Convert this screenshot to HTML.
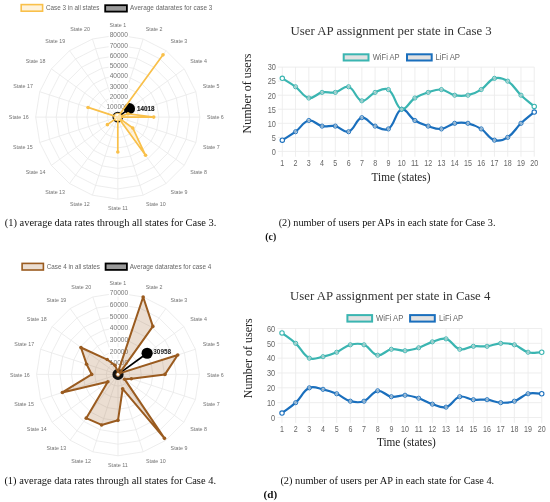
<!DOCTYPE html>
<html><head><meta charset="utf-8"><style>
html,body{margin:0;padding:0;background:#fff;width:550px;height:502px;overflow:hidden}
svg{display:block;filter:blur(0.35px)}
</style></head><body>
<svg width="550" height="502" viewBox="0 0 550 502">
<rect x="0" y="0" width="550" height="502" fill="#fff"/>
<polygon points="117.80,106.84 120.97,107.34 123.83,108.80 126.10,111.07 127.56,113.93 128.06,117.10 127.56,120.27 126.10,123.13 123.83,125.40 120.97,126.86 117.80,127.36 114.63,126.86 111.77,125.40 109.50,123.13 108.04,120.27 107.54,117.10 108.04,113.93 109.50,111.07 111.77,108.80 114.63,107.34" fill="none" stroke="#e9e9e9" stroke-width="0.8"/>
<polygon points="117.80,96.57 124.14,97.58 129.86,100.49 134.41,105.04 137.32,110.76 138.32,117.10 137.32,123.44 134.41,129.16 129.86,133.71 124.14,136.62 117.80,137.62 111.46,136.62 105.74,133.71 101.19,129.16 98.28,123.44 97.28,117.10 98.28,110.76 101.19,105.04 105.74,100.49 111.46,97.58" fill="none" stroke="#e9e9e9" stroke-width="0.8"/>
<polygon points="117.80,86.31 127.31,87.82 135.90,92.19 142.71,99.00 147.08,107.59 148.59,117.10 147.08,126.61 142.71,135.20 135.90,142.01 127.31,146.38 117.80,147.89 108.29,146.38 99.70,142.01 92.89,135.20 88.52,126.61 87.01,117.10 88.52,107.59 92.89,99.00 99.70,92.19 108.29,87.82" fill="none" stroke="#e9e9e9" stroke-width="0.8"/>
<polygon points="117.80,76.05 130.49,78.06 141.93,83.89 151.01,92.97 156.84,104.41 158.85,117.10 156.84,129.79 151.01,141.23 141.93,150.31 130.49,156.14 117.80,158.15 105.11,156.14 93.67,150.31 84.59,141.23 78.76,129.79 76.75,117.10 78.76,104.41 84.59,92.97 93.67,83.89 105.11,78.06" fill="none" stroke="#e9e9e9" stroke-width="0.8"/>
<polygon points="117.80,65.79 133.66,68.30 147.96,75.59 159.31,86.94 166.60,101.24 169.11,117.10 166.60,132.96 159.31,147.26 147.96,158.61 133.66,165.90 117.80,168.41 101.94,165.90 87.64,158.61 76.29,147.26 69.00,132.96 66.49,117.10 69.00,101.24 76.29,86.94 87.64,75.59 101.94,68.30" fill="none" stroke="#e9e9e9" stroke-width="0.8"/>
<polygon points="117.80,55.52 136.83,58.54 153.99,67.28 167.62,80.91 176.36,98.07 179.38,117.10 176.36,136.13 167.62,153.29 153.99,166.92 136.83,175.66 117.80,178.67 98.77,175.66 81.61,166.92 67.98,153.29 59.24,136.13 56.23,117.10 59.24,98.07 67.98,80.91 81.61,67.28 98.77,58.54" fill="none" stroke="#e9e9e9" stroke-width="0.8"/>
<polygon points="117.80,45.26 140.00,48.78 160.03,58.98 175.92,74.87 186.12,94.90 189.64,117.10 186.12,139.30 175.92,159.33 160.03,175.22 140.00,185.42 117.80,188.94 95.60,185.42 75.57,175.22 59.68,159.33 49.48,139.30 45.96,117.10 49.48,94.90 59.68,74.87 75.57,58.98 95.60,48.78" fill="none" stroke="#e9e9e9" stroke-width="0.8"/>
<polygon points="117.80,35.00 143.17,39.02 166.06,50.68 184.22,68.84 195.88,91.73 199.90,117.10 195.88,142.47 184.22,165.36 166.06,183.52 143.17,195.18 117.80,199.20 92.43,195.18 69.54,183.52 51.38,165.36 39.72,142.47 35.70,117.10 39.72,91.73 51.38,68.84 69.54,50.68 92.43,39.02" fill="none" stroke="#e9e9e9" stroke-width="0.8"/>
<line x1="117.80" y1="117.10" x2="117.80" y2="35.00" stroke="#e9e9e9" stroke-width="0.8"/>
<line x1="117.80" y1="117.10" x2="143.17" y2="39.02" stroke="#e9e9e9" stroke-width="0.8"/>
<line x1="117.80" y1="117.10" x2="166.06" y2="50.68" stroke="#e9e9e9" stroke-width="0.8"/>
<line x1="117.80" y1="117.10" x2="184.22" y2="68.84" stroke="#e9e9e9" stroke-width="0.8"/>
<line x1="117.80" y1="117.10" x2="195.88" y2="91.73" stroke="#e9e9e9" stroke-width="0.8"/>
<line x1="117.80" y1="117.10" x2="199.90" y2="117.10" stroke="#e9e9e9" stroke-width="0.8"/>
<line x1="117.80" y1="117.10" x2="195.88" y2="142.47" stroke="#e9e9e9" stroke-width="0.8"/>
<line x1="117.80" y1="117.10" x2="184.22" y2="165.36" stroke="#e9e9e9" stroke-width="0.8"/>
<line x1="117.80" y1="117.10" x2="166.06" y2="183.52" stroke="#e9e9e9" stroke-width="0.8"/>
<line x1="117.80" y1="117.10" x2="143.17" y2="195.18" stroke="#e9e9e9" stroke-width="0.8"/>
<line x1="117.80" y1="117.10" x2="117.80" y2="199.20" stroke="#e9e9e9" stroke-width="0.8"/>
<line x1="117.80" y1="117.10" x2="92.43" y2="195.18" stroke="#e9e9e9" stroke-width="0.8"/>
<line x1="117.80" y1="117.10" x2="69.54" y2="183.52" stroke="#e9e9e9" stroke-width="0.8"/>
<line x1="117.80" y1="117.10" x2="51.38" y2="165.36" stroke="#e9e9e9" stroke-width="0.8"/>
<line x1="117.80" y1="117.10" x2="39.72" y2="142.47" stroke="#e9e9e9" stroke-width="0.8"/>
<line x1="117.80" y1="117.10" x2="35.70" y2="117.10" stroke="#e9e9e9" stroke-width="0.8"/>
<line x1="117.80" y1="117.10" x2="39.72" y2="91.73" stroke="#e9e9e9" stroke-width="0.8"/>
<line x1="117.80" y1="117.10" x2="51.38" y2="68.84" stroke="#e9e9e9" stroke-width="0.8"/>
<line x1="117.80" y1="117.10" x2="69.54" y2="50.68" stroke="#e9e9e9" stroke-width="0.8"/>
<line x1="117.80" y1="117.10" x2="92.43" y2="39.02" stroke="#e9e9e9" stroke-width="0.8"/>
<rect x="105.45" y="102.64" width="20.30" height="7.8" fill="#fff" fill-opacity="1.0"/>
<text x="115.60" y="106.74" font-family='"Liberation Sans", sans-serif' font-size="7.0" fill="#777" text-anchor="middle" font-weight="normal" dominant-baseline="central" textLength="18.30" lengthAdjust="spacingAndGlyphs">10000</text>
<rect x="108.65" y="92.37" width="20.30" height="7.8" fill="#fff" fill-opacity="1.0"/>
<text x="118.80" y="96.47" font-family='"Liberation Sans", sans-serif' font-size="7.0" fill="#777" text-anchor="middle" font-weight="normal" dominant-baseline="central" textLength="18.30" lengthAdjust="spacingAndGlyphs">20000</text>
<rect x="108.65" y="82.11" width="20.30" height="7.8" fill="#fff" fill-opacity="1.0"/>
<text x="118.80" y="86.21" font-family='"Liberation Sans", sans-serif' font-size="7.0" fill="#777" text-anchor="middle" font-weight="normal" dominant-baseline="central" textLength="18.30" lengthAdjust="spacingAndGlyphs">30000</text>
<rect x="108.65" y="71.85" width="20.30" height="7.8" fill="#fff" fill-opacity="1.0"/>
<text x="118.80" y="75.95" font-family='"Liberation Sans", sans-serif' font-size="7.0" fill="#777" text-anchor="middle" font-weight="normal" dominant-baseline="central" textLength="18.30" lengthAdjust="spacingAndGlyphs">40000</text>
<rect x="108.65" y="61.59" width="20.30" height="7.8" fill="#fff" fill-opacity="1.0"/>
<text x="118.80" y="65.69" font-family='"Liberation Sans", sans-serif' font-size="7.0" fill="#777" text-anchor="middle" font-weight="normal" dominant-baseline="central" textLength="18.30" lengthAdjust="spacingAndGlyphs">50000</text>
<rect x="108.65" y="51.32" width="20.30" height="7.8" fill="#fff" fill-opacity="1.0"/>
<text x="118.80" y="55.42" font-family='"Liberation Sans", sans-serif' font-size="7.0" fill="#777" text-anchor="middle" font-weight="normal" dominant-baseline="central" textLength="18.30" lengthAdjust="spacingAndGlyphs">60000</text>
<rect x="108.65" y="41.06" width="20.30" height="7.8" fill="#fff" fill-opacity="1.0"/>
<text x="118.80" y="45.16" font-family='"Liberation Sans", sans-serif' font-size="7.0" fill="#777" text-anchor="middle" font-weight="normal" dominant-baseline="central" textLength="18.30" lengthAdjust="spacingAndGlyphs">70000</text>
<rect x="108.65" y="30.80" width="20.30" height="7.8" fill="#fff" fill-opacity="1.0"/>
<text x="118.80" y="34.90" font-family='"Liberation Sans", sans-serif' font-size="7.0" fill="#777" text-anchor="middle" font-weight="normal" dominant-baseline="central" textLength="18.30" lengthAdjust="spacingAndGlyphs">80000</text>
<text x="117.80" y="24.50" font-family='"Liberation Sans", sans-serif' font-size="6.0" fill="#737373" text-anchor="middle" font-weight="normal" dominant-baseline="central" textLength="16.80" lengthAdjust="spacingAndGlyphs">State 1</text>
<text x="145.70" y="28.80" font-family='"Liberation Sans", sans-serif' font-size="6.0" fill="#737373" text-anchor="start" font-weight="normal" dominant-baseline="central" textLength="16.80" lengthAdjust="spacingAndGlyphs">State 2</text>
<text x="170.50" y="41.40" font-family='"Liberation Sans", sans-serif' font-size="6.0" fill="#737373" text-anchor="start" font-weight="normal" dominant-baseline="central" textLength="16.80" lengthAdjust="spacingAndGlyphs">State 3</text>
<text x="190.20" y="61.10" font-family='"Liberation Sans", sans-serif' font-size="6.0" fill="#737373" text-anchor="start" font-weight="normal" dominant-baseline="central" textLength="16.80" lengthAdjust="spacingAndGlyphs">State 4</text>
<text x="202.70" y="85.60" font-family='"Liberation Sans", sans-serif' font-size="6.0" fill="#737373" text-anchor="start" font-weight="normal" dominant-baseline="central" textLength="16.80" lengthAdjust="spacingAndGlyphs">State 5</text>
<text x="207.00" y="117.00" font-family='"Liberation Sans", sans-serif' font-size="6.0" fill="#737373" text-anchor="start" font-weight="normal" dominant-baseline="central" textLength="16.80" lengthAdjust="spacingAndGlyphs">State 6</text>
<text x="202.90" y="147.40" font-family='"Liberation Sans", sans-serif' font-size="6.0" fill="#737373" text-anchor="start" font-weight="normal" dominant-baseline="central" textLength="16.80" lengthAdjust="spacingAndGlyphs">State 7</text>
<text x="190.20" y="172.30" font-family='"Liberation Sans", sans-serif' font-size="6.0" fill="#737373" text-anchor="start" font-weight="normal" dominant-baseline="central" textLength="16.80" lengthAdjust="spacingAndGlyphs">State 8</text>
<text x="170.60" y="191.50" font-family='"Liberation Sans", sans-serif' font-size="6.0" fill="#737373" text-anchor="start" font-weight="normal" dominant-baseline="central" textLength="16.80" lengthAdjust="spacingAndGlyphs">State 9</text>
<text x="145.90" y="204.30" font-family='"Liberation Sans", sans-serif' font-size="6.0" fill="#737373" text-anchor="start" font-weight="normal" dominant-baseline="central" textLength="19.74" lengthAdjust="spacingAndGlyphs">State 10</text>
<text x="117.90" y="207.90" font-family='"Liberation Sans", sans-serif' font-size="6.0" fill="#737373" text-anchor="middle" font-weight="normal" dominant-baseline="central" textLength="19.74" lengthAdjust="spacingAndGlyphs">State 11</text>
<text x="89.70" y="204.30" font-family='"Liberation Sans", sans-serif' font-size="6.0" fill="#737373" text-anchor="end" font-weight="normal" dominant-baseline="central" textLength="19.74" lengthAdjust="spacingAndGlyphs">State 12</text>
<text x="65.00" y="191.50" font-family='"Liberation Sans", sans-serif' font-size="6.0" fill="#737373" text-anchor="end" font-weight="normal" dominant-baseline="central" textLength="19.74" lengthAdjust="spacingAndGlyphs">State 13</text>
<text x="45.40" y="172.30" font-family='"Liberation Sans", sans-serif' font-size="6.0" fill="#737373" text-anchor="end" font-weight="normal" dominant-baseline="central" textLength="19.74" lengthAdjust="spacingAndGlyphs">State 14</text>
<text x="32.70" y="147.40" font-family='"Liberation Sans", sans-serif' font-size="6.0" fill="#737373" text-anchor="end" font-weight="normal" dominant-baseline="central" textLength="19.74" lengthAdjust="spacingAndGlyphs">State 15</text>
<text x="28.60" y="117.00" font-family='"Liberation Sans", sans-serif' font-size="6.0" fill="#737373" text-anchor="end" font-weight="normal" dominant-baseline="central" textLength="19.74" lengthAdjust="spacingAndGlyphs">State 16</text>
<text x="32.90" y="85.60" font-family='"Liberation Sans", sans-serif' font-size="6.0" fill="#737373" text-anchor="end" font-weight="normal" dominant-baseline="central" textLength="19.74" lengthAdjust="spacingAndGlyphs">State 17</text>
<text x="45.40" y="61.10" font-family='"Liberation Sans", sans-serif' font-size="6.0" fill="#737373" text-anchor="end" font-weight="normal" dominant-baseline="central" textLength="19.74" lengthAdjust="spacingAndGlyphs">State 18</text>
<text x="65.10" y="41.40" font-family='"Liberation Sans", sans-serif' font-size="6.0" fill="#737373" text-anchor="end" font-weight="normal" dominant-baseline="central" textLength="19.74" lengthAdjust="spacingAndGlyphs">State 19</text>
<text x="89.90" y="28.80" font-family='"Liberation Sans", sans-serif' font-size="6.0" fill="#737373" text-anchor="end" font-weight="normal" dominant-baseline="central" textLength="19.74" lengthAdjust="spacingAndGlyphs">State 20</text>
<polygon points="117.80,117.10 117.80,117.10 163.04,54.83 117.80,117.10 128.05,113.77 153.72,117.10 117.80,117.10 132.74,127.96 145.55,155.29 117.80,117.10 117.80,151.99 117.80,117.10 117.80,117.10 107.42,124.64 117.80,117.10 117.80,117.10 88.03,107.43 117.80,117.10 117.80,117.10 117.80,117.10" fill="rgba(249,192,74,0.2)" stroke="none"/>
<line x1="117.80" y1="117.10" x2="129.44" y2="108.64" stroke="#000" stroke-width="1.7"/>
<circle cx="129.44" cy="108.64" r="5.6" fill="#000"/>
<circle cx="117.80" cy="117.10" r="4.6" fill="#fff" stroke="#111" stroke-width="1.5"/>
<polygon points="117.80,117.10 117.80,117.10 163.04,54.83 117.80,117.10 128.05,113.77 153.72,117.10 117.80,117.10 132.74,127.96 145.55,155.29 117.80,117.10 117.80,151.99 117.80,117.10 117.80,117.10 107.42,124.64 117.80,117.10 117.80,117.10 88.03,107.43 117.80,117.10 117.80,117.10 117.80,117.10" fill="none" stroke="#f9c04a" stroke-width="1.7" stroke-linejoin="round"/>
<circle cx="163.04" cy="54.83" r="1.8" fill="#f9c04a"/>
<circle cx="128.05" cy="113.77" r="1.8" fill="#f9c04a"/>
<circle cx="153.72" cy="117.10" r="1.8" fill="#f9c04a"/>
<circle cx="132.74" cy="127.96" r="1.8" fill="#f9c04a"/>
<circle cx="145.55" cy="155.29" r="1.8" fill="#f9c04a"/>
<circle cx="117.80" cy="151.99" r="1.8" fill="#f9c04a"/>
<circle cx="107.42" cy="124.64" r="1.8" fill="#f9c04a"/>
<circle cx="88.03" cy="107.43" r="1.8" fill="#f9c04a"/>
<circle cx="117.80" cy="117.10" r="3.8499999999999996" fill="#fff" fill-opacity="0.55" stroke="#f9c04a" stroke-width="0.9"/>
<text x="137.00" y="108.50" font-family='"Liberation Sans", sans-serif' font-size="6.7" fill="#1a1a1a" text-anchor="start" font-weight="bold" dominant-baseline="central" textLength="17.40" lengthAdjust="spacingAndGlyphs" stroke="#1a1a1a" stroke-width="0.15">14018</text>
<rect x="21.20" y="4.60" width="21.40" height="6.60" fill="rgba(249,192,74,0.2)" stroke="#f9c04a" stroke-width="1.6"/>
<text x="45.90" y="7.80" font-family='"Liberation Sans", sans-serif' font-size="7.4" fill="#666" text-anchor="start" font-weight="normal" dominant-baseline="central" textLength="53.60" lengthAdjust="spacingAndGlyphs">Case 3 in all states</text>
<rect x="105.20" y="5.20" width="21.70" height="6.40" fill="#9a9a9a" stroke="#000" stroke-width="1.8"/>
<text x="130.10" y="7.80" font-family='"Liberation Sans", sans-serif' font-size="7.4" fill="#666" text-anchor="start" font-weight="normal" dominant-baseline="central" textLength="82.30" lengthAdjust="spacingAndGlyphs">Average datarates for case 3</text>
<polygon points="118.00,362.77 121.59,363.34 124.84,364.99 127.41,367.56 129.06,370.81 129.63,374.40 129.06,377.99 127.41,381.24 124.84,383.81 121.59,385.46 118.00,386.03 114.41,385.46 111.16,383.81 108.59,381.24 106.94,377.99 106.37,374.40 106.94,370.81 108.59,367.56 111.16,364.99 114.41,363.34" fill="none" stroke="#e9e9e9" stroke-width="0.8"/>
<polygon points="118.00,351.14 125.19,352.28 131.67,355.58 136.82,360.73 140.12,367.21 141.26,374.40 140.12,381.59 136.82,388.07 131.67,393.22 125.19,396.52 118.00,397.66 110.81,396.52 104.33,393.22 99.18,388.07 95.88,381.59 94.74,374.40 95.88,367.21 99.18,360.73 104.33,355.58 110.81,352.28" fill="none" stroke="#e9e9e9" stroke-width="0.8"/>
<polygon points="118.00,339.51 128.78,341.22 138.51,346.18 146.22,353.89 151.18,363.62 152.89,374.40 151.18,385.18 146.22,394.91 138.51,402.62 128.78,407.58 118.00,409.29 107.22,407.58 97.49,402.62 89.78,394.91 84.82,385.18 83.11,374.40 84.82,363.62 89.78,353.89 97.49,346.18 107.22,341.22" fill="none" stroke="#e9e9e9" stroke-width="0.8"/>
<polygon points="118.00,327.89 132.37,330.16 145.34,336.77 155.63,347.06 162.24,360.03 164.51,374.40 162.24,388.77 155.63,401.74 145.34,412.03 132.37,418.64 118.00,420.91 103.63,418.64 90.66,412.03 80.37,401.74 73.76,388.77 71.49,374.40 73.76,360.03 80.37,347.06 90.66,336.77 103.63,330.16" fill="none" stroke="#e9e9e9" stroke-width="0.8"/>
<polygon points="118.00,316.26 135.97,319.10 152.18,327.36 165.04,340.22 173.30,356.43 176.14,374.40 173.30,392.37 165.04,408.58 152.18,421.44 135.97,429.70 118.00,432.54 100.03,429.70 83.82,421.44 70.96,408.58 62.70,392.37 59.86,374.40 62.70,356.43 70.96,340.22 83.82,327.36 100.03,319.10" fill="none" stroke="#e9e9e9" stroke-width="0.8"/>
<polygon points="118.00,304.63 139.56,308.04 159.01,317.95 174.45,333.39 184.36,352.84 187.77,374.40 184.36,395.96 174.45,415.41 159.01,430.85 139.56,440.76 118.00,444.17 96.44,440.76 76.99,430.85 61.55,415.41 51.64,395.96 48.23,374.40 51.64,352.84 61.55,333.39 76.99,317.95 96.44,308.04" fill="none" stroke="#e9e9e9" stroke-width="0.8"/>
<polygon points="118.00,293.00 143.15,296.98 165.85,308.55 183.85,326.55 195.42,349.25 199.40,374.40 195.42,399.55 183.85,422.25 165.85,440.25 143.15,451.82 118.00,455.80 92.85,451.82 70.15,440.25 52.15,422.25 40.58,399.55 36.60,374.40 40.58,349.25 52.15,326.55 70.15,308.55 92.85,296.98" fill="none" stroke="#e9e9e9" stroke-width="0.8"/>
<line x1="118.00" y1="374.40" x2="118.00" y2="293.00" stroke="#e9e9e9" stroke-width="0.8"/>
<line x1="118.00" y1="374.40" x2="143.15" y2="296.98" stroke="#e9e9e9" stroke-width="0.8"/>
<line x1="118.00" y1="374.40" x2="165.85" y2="308.55" stroke="#e9e9e9" stroke-width="0.8"/>
<line x1="118.00" y1="374.40" x2="183.85" y2="326.55" stroke="#e9e9e9" stroke-width="0.8"/>
<line x1="118.00" y1="374.40" x2="195.42" y2="349.25" stroke="#e9e9e9" stroke-width="0.8"/>
<line x1="118.00" y1="374.40" x2="199.40" y2="374.40" stroke="#e9e9e9" stroke-width="0.8"/>
<line x1="118.00" y1="374.40" x2="195.42" y2="399.55" stroke="#e9e9e9" stroke-width="0.8"/>
<line x1="118.00" y1="374.40" x2="183.85" y2="422.25" stroke="#e9e9e9" stroke-width="0.8"/>
<line x1="118.00" y1="374.40" x2="165.85" y2="440.25" stroke="#e9e9e9" stroke-width="0.8"/>
<line x1="118.00" y1="374.40" x2="143.15" y2="451.82" stroke="#e9e9e9" stroke-width="0.8"/>
<line x1="118.00" y1="374.40" x2="118.00" y2="455.80" stroke="#e9e9e9" stroke-width="0.8"/>
<line x1="118.00" y1="374.40" x2="92.85" y2="451.82" stroke="#e9e9e9" stroke-width="0.8"/>
<line x1="118.00" y1="374.40" x2="70.15" y2="440.25" stroke="#e9e9e9" stroke-width="0.8"/>
<line x1="118.00" y1="374.40" x2="52.15" y2="422.25" stroke="#e9e9e9" stroke-width="0.8"/>
<line x1="118.00" y1="374.40" x2="40.58" y2="399.55" stroke="#e9e9e9" stroke-width="0.8"/>
<line x1="118.00" y1="374.40" x2="36.60" y2="374.40" stroke="#e9e9e9" stroke-width="0.8"/>
<line x1="118.00" y1="374.40" x2="40.58" y2="349.25" stroke="#e9e9e9" stroke-width="0.8"/>
<line x1="118.00" y1="374.40" x2="52.15" y2="326.55" stroke="#e9e9e9" stroke-width="0.8"/>
<line x1="118.00" y1="374.40" x2="70.15" y2="308.55" stroke="#e9e9e9" stroke-width="0.8"/>
<line x1="118.00" y1="374.40" x2="92.85" y2="296.98" stroke="#e9e9e9" stroke-width="0.8"/>
<rect x="108.85" y="358.57" width="20.30" height="7.8" fill="#fff" fill-opacity="1.0"/>
<text x="119.00" y="362.67" font-family='"Liberation Sans", sans-serif' font-size="7.0" fill="#777" text-anchor="middle" font-weight="normal" dominant-baseline="central" textLength="18.30" lengthAdjust="spacingAndGlyphs">10000</text>
<rect x="108.85" y="346.94" width="20.30" height="7.8" fill="#fff" fill-opacity="1.0"/>
<text x="119.00" y="351.04" font-family='"Liberation Sans", sans-serif' font-size="7.0" fill="#777" text-anchor="middle" font-weight="normal" dominant-baseline="central" textLength="18.30" lengthAdjust="spacingAndGlyphs">20000</text>
<rect x="108.85" y="335.31" width="20.30" height="7.8" fill="#fff" fill-opacity="1.0"/>
<text x="119.00" y="339.41" font-family='"Liberation Sans", sans-serif' font-size="7.0" fill="#777" text-anchor="middle" font-weight="normal" dominant-baseline="central" textLength="18.30" lengthAdjust="spacingAndGlyphs">30000</text>
<rect x="108.85" y="323.69" width="20.30" height="7.8" fill="#fff" fill-opacity="1.0"/>
<text x="119.00" y="327.79" font-family='"Liberation Sans", sans-serif' font-size="7.0" fill="#777" text-anchor="middle" font-weight="normal" dominant-baseline="central" textLength="18.30" lengthAdjust="spacingAndGlyphs">40000</text>
<rect x="108.85" y="312.06" width="20.30" height="7.8" fill="#fff" fill-opacity="1.0"/>
<text x="119.00" y="316.16" font-family='"Liberation Sans", sans-serif' font-size="7.0" fill="#777" text-anchor="middle" font-weight="normal" dominant-baseline="central" textLength="18.30" lengthAdjust="spacingAndGlyphs">50000</text>
<rect x="108.85" y="300.43" width="20.30" height="7.8" fill="#fff" fill-opacity="1.0"/>
<text x="119.00" y="304.53" font-family='"Liberation Sans", sans-serif' font-size="7.0" fill="#777" text-anchor="middle" font-weight="normal" dominant-baseline="central" textLength="18.30" lengthAdjust="spacingAndGlyphs">60000</text>
<rect x="108.85" y="288.80" width="20.30" height="7.8" fill="#fff" fill-opacity="1.0"/>
<text x="119.00" y="292.90" font-family='"Liberation Sans", sans-serif' font-size="7.0" fill="#777" text-anchor="middle" font-weight="normal" dominant-baseline="central" textLength="18.30" lengthAdjust="spacingAndGlyphs">70000</text>
<text x="117.80" y="282.60" font-family='"Liberation Sans", sans-serif' font-size="6.0" fill="#737373" text-anchor="middle" font-weight="normal" dominant-baseline="central" textLength="16.80" lengthAdjust="spacingAndGlyphs">State 1</text>
<text x="145.70" y="286.90" font-family='"Liberation Sans", sans-serif' font-size="6.0" fill="#737373" text-anchor="start" font-weight="normal" dominant-baseline="central" textLength="16.80" lengthAdjust="spacingAndGlyphs">State 2</text>
<text x="170.50" y="299.50" font-family='"Liberation Sans", sans-serif' font-size="6.0" fill="#737373" text-anchor="start" font-weight="normal" dominant-baseline="central" textLength="16.80" lengthAdjust="spacingAndGlyphs">State 3</text>
<text x="190.20" y="319.20" font-family='"Liberation Sans", sans-serif' font-size="6.0" fill="#737373" text-anchor="start" font-weight="normal" dominant-baseline="central" textLength="16.80" lengthAdjust="spacingAndGlyphs">State 4</text>
<text x="202.70" y="343.70" font-family='"Liberation Sans", sans-serif' font-size="6.0" fill="#737373" text-anchor="start" font-weight="normal" dominant-baseline="central" textLength="16.80" lengthAdjust="spacingAndGlyphs">State 5</text>
<text x="207.00" y="374.50" font-family='"Liberation Sans", sans-serif' font-size="6.0" fill="#737373" text-anchor="start" font-weight="normal" dominant-baseline="central" textLength="16.80" lengthAdjust="spacingAndGlyphs">State 6</text>
<text x="202.90" y="403.70" font-family='"Liberation Sans", sans-serif' font-size="6.0" fill="#737373" text-anchor="start" font-weight="normal" dominant-baseline="central" textLength="16.80" lengthAdjust="spacingAndGlyphs">State 7</text>
<text x="190.20" y="428.60" font-family='"Liberation Sans", sans-serif' font-size="6.0" fill="#737373" text-anchor="start" font-weight="normal" dominant-baseline="central" textLength="16.80" lengthAdjust="spacingAndGlyphs">State 8</text>
<text x="170.60" y="447.80" font-family='"Liberation Sans", sans-serif' font-size="6.0" fill="#737373" text-anchor="start" font-weight="normal" dominant-baseline="central" textLength="16.80" lengthAdjust="spacingAndGlyphs">State 9</text>
<text x="145.90" y="460.60" font-family='"Liberation Sans", sans-serif' font-size="6.0" fill="#737373" text-anchor="start" font-weight="normal" dominant-baseline="central" textLength="19.74" lengthAdjust="spacingAndGlyphs">State 10</text>
<text x="117.90" y="465.40" font-family='"Liberation Sans", sans-serif' font-size="6.0" fill="#737373" text-anchor="middle" font-weight="normal" dominant-baseline="central" textLength="19.74" lengthAdjust="spacingAndGlyphs">State 11</text>
<text x="90.90" y="460.60" font-family='"Liberation Sans", sans-serif' font-size="6.0" fill="#737373" text-anchor="end" font-weight="normal" dominant-baseline="central" textLength="19.74" lengthAdjust="spacingAndGlyphs">State 12</text>
<text x="66.20" y="447.80" font-family='"Liberation Sans", sans-serif' font-size="6.0" fill="#737373" text-anchor="end" font-weight="normal" dominant-baseline="central" textLength="19.74" lengthAdjust="spacingAndGlyphs">State 13</text>
<text x="46.60" y="428.60" font-family='"Liberation Sans", sans-serif' font-size="6.0" fill="#737373" text-anchor="end" font-weight="normal" dominant-baseline="central" textLength="19.74" lengthAdjust="spacingAndGlyphs">State 14</text>
<text x="33.90" y="403.70" font-family='"Liberation Sans", sans-serif' font-size="6.0" fill="#737373" text-anchor="end" font-weight="normal" dominant-baseline="central" textLength="19.74" lengthAdjust="spacingAndGlyphs">State 15</text>
<text x="29.80" y="374.50" font-family='"Liberation Sans", sans-serif' font-size="6.0" fill="#737373" text-anchor="end" font-weight="normal" dominant-baseline="central" textLength="19.74" lengthAdjust="spacingAndGlyphs">State 16</text>
<text x="34.10" y="343.70" font-family='"Liberation Sans", sans-serif' font-size="6.0" fill="#737373" text-anchor="end" font-weight="normal" dominant-baseline="central" textLength="19.74" lengthAdjust="spacingAndGlyphs">State 17</text>
<text x="46.60" y="319.20" font-family='"Liberation Sans", sans-serif' font-size="6.0" fill="#737373" text-anchor="end" font-weight="normal" dominant-baseline="central" textLength="19.74" lengthAdjust="spacingAndGlyphs">State 18</text>
<text x="66.30" y="299.50" font-family='"Liberation Sans", sans-serif' font-size="6.0" fill="#737373" text-anchor="end" font-weight="normal" dominant-baseline="central" textLength="19.74" lengthAdjust="spacingAndGlyphs">State 19</text>
<text x="91.10" y="286.90" font-family='"Liberation Sans", sans-serif' font-size="6.0" fill="#737373" text-anchor="end" font-weight="normal" dominant-baseline="central" textLength="19.74" lengthAdjust="spacingAndGlyphs">State 20</text>
<polygon points="118.00,372.07 143.15,296.98 152.86,326.42 119.41,373.37 177.72,355.00 164.98,374.40 131.27,378.71 124.59,379.18 164.48,438.37 122.67,388.78 118.00,420.33 101.58,424.94 86.22,418.15 107.84,381.78 62.37,392.47 91.72,374.40 86.59,364.19 80.93,347.47 107.20,359.54 115.05,365.33" fill="rgba(154,91,31,0.2)" stroke="none"/>
<line x1="118.00" y1="374.40" x2="147.12" y2="353.24" stroke="#000" stroke-width="1.7"/>
<circle cx="147.12" cy="353.24" r="5.6" fill="#000"/>
<circle cx="118.00" cy="374.40" r="3.8" fill="#fff" stroke="#111" stroke-width="3.6"/>
<polygon points="118.00,372.07 143.15,296.98 152.86,326.42 119.41,373.37 177.72,355.00 164.98,374.40 131.27,378.71 124.59,379.18 164.48,438.37 122.67,388.78 118.00,420.33 101.58,424.94 86.22,418.15 107.84,381.78 62.37,392.47 91.72,374.40 86.59,364.19 80.93,347.47 107.20,359.54 115.05,365.33" fill="none" stroke="#9a5b1f" stroke-width="2.0" stroke-linejoin="round"/>
<circle cx="143.15" cy="296.98" r="1.8" fill="#9a5b1f"/>
<circle cx="152.86" cy="326.42" r="1.8" fill="#9a5b1f"/>
<circle cx="177.72" cy="355.00" r="1.8" fill="#9a5b1f"/>
<circle cx="164.98" cy="374.40" r="1.8" fill="#9a5b1f"/>
<circle cx="131.27" cy="378.71" r="1.8" fill="#9a5b1f"/>
<circle cx="124.59" cy="379.18" r="1.8" fill="#9a5b1f"/>
<circle cx="164.48" cy="438.37" r="1.8" fill="#9a5b1f"/>
<circle cx="122.67" cy="388.78" r="1.8" fill="#9a5b1f"/>
<circle cx="118.00" cy="420.33" r="1.8" fill="#9a5b1f"/>
<circle cx="101.58" cy="424.94" r="1.8" fill="#9a5b1f"/>
<circle cx="86.22" cy="418.15" r="1.8" fill="#9a5b1f"/>
<circle cx="107.84" cy="381.78" r="1.8" fill="#9a5b1f"/>
<circle cx="62.37" cy="392.47" r="1.8" fill="#9a5b1f"/>
<circle cx="91.72" cy="374.40" r="1.8" fill="#9a5b1f"/>
<circle cx="86.59" cy="364.19" r="1.8" fill="#9a5b1f"/>
<circle cx="80.93" cy="347.47" r="1.8" fill="#9a5b1f"/>
<circle cx="107.20" cy="359.54" r="1.8" fill="#9a5b1f"/>
<circle cx="115.05" cy="365.33" r="1.8" fill="#9a5b1f"/>
<circle cx="118.00" cy="374.40" r="1.9999999999999998" fill="#fff" fill-opacity="0.55" stroke="#9a5b1f" stroke-width="0.9"/>
<text x="153.30" y="351.00" font-family='"Liberation Sans", sans-serif' font-size="6.7" fill="#1a1a1a" text-anchor="start" font-weight="bold" dominant-baseline="central" textLength="17.80" lengthAdjust="spacingAndGlyphs">30958</text>
<rect x="22.10" y="263.40" width="21.30" height="6.60" fill="rgba(154,91,31,0.2)" stroke="#9a5b1f" stroke-width="1.6"/>
<text x="46.70" y="266.00" font-family='"Liberation Sans", sans-serif' font-size="7.4" fill="#666" text-anchor="start" font-weight="normal" dominant-baseline="central" textLength="53.20" lengthAdjust="spacingAndGlyphs">Case 4 in all states</text>
<rect x="105.60" y="263.50" width="21.30" height="6.40" fill="#9a9a9a" stroke="#000" stroke-width="1.8"/>
<text x="129.70" y="266.00" font-family='"Liberation Sans", sans-serif' font-size="7.4" fill="#666" text-anchor="start" font-weight="normal" dominant-baseline="central" textLength="81.60" lengthAdjust="spacingAndGlyphs">Average datarates for case 4</text>
<line x1="277.80" y1="151.40" x2="534.24" y2="151.40" stroke="#ebebeb" stroke-width="0.85"/>
<text x="275.90" y="151.70" font-family='"Liberation Sans", sans-serif' font-size="8.4" fill="#666" text-anchor="end" font-weight="normal" dominant-baseline="central" textLength="4.10" lengthAdjust="spacingAndGlyphs">0</text>
<line x1="277.80" y1="137.35" x2="534.24" y2="137.35" stroke="#ebebeb" stroke-width="0.85"/>
<text x="275.90" y="137.65" font-family='"Liberation Sans", sans-serif' font-size="8.4" fill="#666" text-anchor="end" font-weight="normal" dominant-baseline="central" textLength="4.10" lengthAdjust="spacingAndGlyphs">5</text>
<line x1="277.80" y1="123.30" x2="534.24" y2="123.30" stroke="#ebebeb" stroke-width="0.85"/>
<text x="275.90" y="123.60" font-family='"Liberation Sans", sans-serif' font-size="8.4" fill="#666" text-anchor="end" font-weight="normal" dominant-baseline="central" textLength="8.20" lengthAdjust="spacingAndGlyphs">10</text>
<line x1="277.80" y1="109.25" x2="534.24" y2="109.25" stroke="#ebebeb" stroke-width="0.85"/>
<text x="275.90" y="109.55" font-family='"Liberation Sans", sans-serif' font-size="8.4" fill="#666" text-anchor="end" font-weight="normal" dominant-baseline="central" textLength="8.20" lengthAdjust="spacingAndGlyphs">15</text>
<line x1="277.80" y1="95.20" x2="534.24" y2="95.20" stroke="#ebebeb" stroke-width="0.85"/>
<text x="275.90" y="95.50" font-family='"Liberation Sans", sans-serif' font-size="8.4" fill="#666" text-anchor="end" font-weight="normal" dominant-baseline="central" textLength="8.20" lengthAdjust="spacingAndGlyphs">20</text>
<line x1="277.80" y1="81.15" x2="534.24" y2="81.15" stroke="#ebebeb" stroke-width="0.85"/>
<text x="275.90" y="81.45" font-family='"Liberation Sans", sans-serif' font-size="8.4" fill="#666" text-anchor="end" font-weight="normal" dominant-baseline="central" textLength="8.20" lengthAdjust="spacingAndGlyphs">25</text>
<line x1="277.80" y1="67.10" x2="534.24" y2="67.10" stroke="#ebebeb" stroke-width="0.85"/>
<text x="275.90" y="67.40" font-family='"Liberation Sans", sans-serif' font-size="8.4" fill="#666" text-anchor="end" font-weight="normal" dominant-baseline="central" textLength="8.20" lengthAdjust="spacingAndGlyphs">30</text>
<line x1="282.30" y1="67.10" x2="282.30" y2="156.70" stroke="#ebebeb" stroke-width="0.85"/>
<text x="282.30" y="163.20" font-family='"Liberation Sans", sans-serif' font-size="8.6" fill="#666" text-anchor="middle" font-weight="normal" dominant-baseline="central" textLength="3.95" lengthAdjust="spacingAndGlyphs">1</text>
<line x1="295.56" y1="67.10" x2="295.56" y2="156.70" stroke="#ebebeb" stroke-width="0.85"/>
<text x="295.56" y="163.20" font-family='"Liberation Sans", sans-serif' font-size="8.6" fill="#666" text-anchor="middle" font-weight="normal" dominant-baseline="central" textLength="3.95" lengthAdjust="spacingAndGlyphs">2</text>
<line x1="308.82" y1="67.10" x2="308.82" y2="156.70" stroke="#ebebeb" stroke-width="0.85"/>
<text x="308.82" y="163.20" font-family='"Liberation Sans", sans-serif' font-size="8.6" fill="#666" text-anchor="middle" font-weight="normal" dominant-baseline="central" textLength="3.95" lengthAdjust="spacingAndGlyphs">3</text>
<line x1="322.08" y1="67.10" x2="322.08" y2="156.70" stroke="#ebebeb" stroke-width="0.85"/>
<text x="322.08" y="163.20" font-family='"Liberation Sans", sans-serif' font-size="8.6" fill="#666" text-anchor="middle" font-weight="normal" dominant-baseline="central" textLength="3.95" lengthAdjust="spacingAndGlyphs">4</text>
<line x1="335.34" y1="67.10" x2="335.34" y2="156.70" stroke="#ebebeb" stroke-width="0.85"/>
<text x="335.34" y="163.20" font-family='"Liberation Sans", sans-serif' font-size="8.6" fill="#666" text-anchor="middle" font-weight="normal" dominant-baseline="central" textLength="3.95" lengthAdjust="spacingAndGlyphs">5</text>
<line x1="348.60" y1="67.10" x2="348.60" y2="156.70" stroke="#ebebeb" stroke-width="0.85"/>
<text x="348.60" y="163.20" font-family='"Liberation Sans", sans-serif' font-size="8.6" fill="#666" text-anchor="middle" font-weight="normal" dominant-baseline="central" textLength="3.95" lengthAdjust="spacingAndGlyphs">6</text>
<line x1="361.86" y1="67.10" x2="361.86" y2="156.70" stroke="#ebebeb" stroke-width="0.85"/>
<text x="361.86" y="163.20" font-family='"Liberation Sans", sans-serif' font-size="8.6" fill="#666" text-anchor="middle" font-weight="normal" dominant-baseline="central" textLength="3.95" lengthAdjust="spacingAndGlyphs">7</text>
<line x1="375.12" y1="67.10" x2="375.12" y2="156.70" stroke="#ebebeb" stroke-width="0.85"/>
<text x="375.12" y="163.20" font-family='"Liberation Sans", sans-serif' font-size="8.6" fill="#666" text-anchor="middle" font-weight="normal" dominant-baseline="central" textLength="3.95" lengthAdjust="spacingAndGlyphs">8</text>
<line x1="388.38" y1="67.10" x2="388.38" y2="156.70" stroke="#ebebeb" stroke-width="0.85"/>
<text x="388.38" y="163.20" font-family='"Liberation Sans", sans-serif' font-size="8.6" fill="#666" text-anchor="middle" font-weight="normal" dominant-baseline="central" textLength="3.95" lengthAdjust="spacingAndGlyphs">9</text>
<line x1="401.64" y1="67.10" x2="401.64" y2="156.70" stroke="#ebebeb" stroke-width="0.85"/>
<text x="401.64" y="163.20" font-family='"Liberation Sans", sans-serif' font-size="8.6" fill="#666" text-anchor="middle" font-weight="normal" dominant-baseline="central" textLength="7.90" lengthAdjust="spacingAndGlyphs">10</text>
<line x1="414.90" y1="67.10" x2="414.90" y2="156.70" stroke="#ebebeb" stroke-width="0.85"/>
<text x="414.90" y="163.20" font-family='"Liberation Sans", sans-serif' font-size="8.6" fill="#666" text-anchor="middle" font-weight="normal" dominant-baseline="central" textLength="7.90" lengthAdjust="spacingAndGlyphs">11</text>
<line x1="428.16" y1="67.10" x2="428.16" y2="156.70" stroke="#ebebeb" stroke-width="0.85"/>
<text x="428.16" y="163.20" font-family='"Liberation Sans", sans-serif' font-size="8.6" fill="#666" text-anchor="middle" font-weight="normal" dominant-baseline="central" textLength="7.90" lengthAdjust="spacingAndGlyphs">12</text>
<line x1="441.42" y1="67.10" x2="441.42" y2="156.70" stroke="#ebebeb" stroke-width="0.85"/>
<text x="441.42" y="163.20" font-family='"Liberation Sans", sans-serif' font-size="8.6" fill="#666" text-anchor="middle" font-weight="normal" dominant-baseline="central" textLength="7.90" lengthAdjust="spacingAndGlyphs">13</text>
<line x1="454.68" y1="67.10" x2="454.68" y2="156.70" stroke="#ebebeb" stroke-width="0.85"/>
<text x="454.68" y="163.20" font-family='"Liberation Sans", sans-serif' font-size="8.6" fill="#666" text-anchor="middle" font-weight="normal" dominant-baseline="central" textLength="7.90" lengthAdjust="spacingAndGlyphs">14</text>
<line x1="467.94" y1="67.10" x2="467.94" y2="156.70" stroke="#ebebeb" stroke-width="0.85"/>
<text x="467.94" y="163.20" font-family='"Liberation Sans", sans-serif' font-size="8.6" fill="#666" text-anchor="middle" font-weight="normal" dominant-baseline="central" textLength="7.90" lengthAdjust="spacingAndGlyphs">15</text>
<line x1="481.20" y1="67.10" x2="481.20" y2="156.70" stroke="#ebebeb" stroke-width="0.85"/>
<text x="481.20" y="163.20" font-family='"Liberation Sans", sans-serif' font-size="8.6" fill="#666" text-anchor="middle" font-weight="normal" dominant-baseline="central" textLength="7.90" lengthAdjust="spacingAndGlyphs">16</text>
<line x1="494.46" y1="67.10" x2="494.46" y2="156.70" stroke="#ebebeb" stroke-width="0.85"/>
<text x="494.46" y="163.20" font-family='"Liberation Sans", sans-serif' font-size="8.6" fill="#666" text-anchor="middle" font-weight="normal" dominant-baseline="central" textLength="7.90" lengthAdjust="spacingAndGlyphs">17</text>
<line x1="507.72" y1="67.10" x2="507.72" y2="156.70" stroke="#ebebeb" stroke-width="0.85"/>
<text x="507.72" y="163.20" font-family='"Liberation Sans", sans-serif' font-size="8.6" fill="#666" text-anchor="middle" font-weight="normal" dominant-baseline="central" textLength="7.90" lengthAdjust="spacingAndGlyphs">18</text>
<line x1="520.98" y1="67.10" x2="520.98" y2="156.70" stroke="#ebebeb" stroke-width="0.85"/>
<text x="520.98" y="163.20" font-family='"Liberation Sans", sans-serif' font-size="8.6" fill="#666" text-anchor="middle" font-weight="normal" dominant-baseline="central" textLength="7.90" lengthAdjust="spacingAndGlyphs">19</text>
<line x1="534.24" y1="67.10" x2="534.24" y2="156.70" stroke="#ebebeb" stroke-width="0.85"/>
<text x="534.24" y="163.20" font-family='"Liberation Sans", sans-serif' font-size="8.6" fill="#666" text-anchor="middle" font-weight="normal" dominant-baseline="central" textLength="7.90" lengthAdjust="spacingAndGlyphs">20</text>
<path d="M282.30,140.16 C287.60,136.79 290.52,135.47 295.56,131.73 C301.13,127.60 303.02,121.72 308.82,120.49 C313.63,119.47 316.56,124.94 322.08,126.11 C327.17,127.19 330.25,125.03 335.34,126.11 C340.86,127.28 344.07,133.17 348.60,131.73 C354.68,129.80 356.01,118.92 361.86,117.68 C366.62,116.67 369.42,123.70 375.12,126.11 C380.03,128.19 384.52,131.37 388.38,128.92 C395.13,124.63 395.52,111.20 401.64,109.25 C406.13,107.82 409.10,116.80 414.90,120.49 C419.71,123.55 422.70,124.37 428.16,126.11 C433.30,127.74 436.28,129.46 441.42,128.92 C446.88,128.34 449.16,124.47 454.68,123.30 C459.77,122.22 462.85,122.22 467.94,123.30 C473.46,124.47 476.39,125.86 481.20,128.92 C487.00,132.61 488.50,138.27 494.46,140.16 C499.11,141.64 503.35,140.13 507.72,137.35 C513.95,133.39 515.40,128.62 520.98,123.30 C526.00,118.51 528.94,116.56 534.24,112.06" fill="none" stroke="#1a6fbd" stroke-width="2.2"/>
<circle cx="282.30" cy="140.16" r="2.2" fill="#fff" stroke="#1a6fbd" stroke-width="1.1"/>
<circle cx="295.56" cy="131.73" r="2.1" fill="#d9dedd" fill-opacity="0.6" stroke="#1a6fbd" stroke-width="0.9"/>
<circle cx="308.82" cy="120.49" r="2.1" fill="#d9dedd" fill-opacity="0.6" stroke="#1a6fbd" stroke-width="0.9"/>
<circle cx="322.08" cy="126.11" r="2.1" fill="#d9dedd" fill-opacity="0.6" stroke="#1a6fbd" stroke-width="0.9"/>
<circle cx="335.34" cy="126.11" r="2.1" fill="#d9dedd" fill-opacity="0.6" stroke="#1a6fbd" stroke-width="0.9"/>
<circle cx="348.60" cy="131.73" r="2.1" fill="#d9dedd" fill-opacity="0.6" stroke="#1a6fbd" stroke-width="0.9"/>
<circle cx="361.86" cy="117.68" r="2.1" fill="#d9dedd" fill-opacity="0.6" stroke="#1a6fbd" stroke-width="0.9"/>
<circle cx="375.12" cy="126.11" r="2.1" fill="#d9dedd" fill-opacity="0.6" stroke="#1a6fbd" stroke-width="0.9"/>
<circle cx="388.38" cy="128.92" r="2.1" fill="#d9dedd" fill-opacity="0.6" stroke="#1a6fbd" stroke-width="0.9"/>
<circle cx="401.64" cy="109.25" r="2.1" fill="#d9dedd" fill-opacity="0.6" stroke="#1a6fbd" stroke-width="0.9"/>
<circle cx="414.90" cy="120.49" r="2.1" fill="#d9dedd" fill-opacity="0.6" stroke="#1a6fbd" stroke-width="0.9"/>
<circle cx="428.16" cy="126.11" r="2.1" fill="#d9dedd" fill-opacity="0.6" stroke="#1a6fbd" stroke-width="0.9"/>
<circle cx="441.42" cy="128.92" r="2.1" fill="#d9dedd" fill-opacity="0.6" stroke="#1a6fbd" stroke-width="0.9"/>
<circle cx="454.68" cy="123.30" r="2.1" fill="#d9dedd" fill-opacity="0.6" stroke="#1a6fbd" stroke-width="0.9"/>
<circle cx="467.94" cy="123.30" r="2.1" fill="#d9dedd" fill-opacity="0.6" stroke="#1a6fbd" stroke-width="0.9"/>
<circle cx="481.20" cy="128.92" r="2.1" fill="#d9dedd" fill-opacity="0.6" stroke="#1a6fbd" stroke-width="0.9"/>
<circle cx="494.46" cy="140.16" r="2.1" fill="#d9dedd" fill-opacity="0.6" stroke="#1a6fbd" stroke-width="0.9"/>
<circle cx="507.72" cy="137.35" r="2.1" fill="#d9dedd" fill-opacity="0.6" stroke="#1a6fbd" stroke-width="0.9"/>
<circle cx="520.98" cy="123.30" r="2.1" fill="#d9dedd" fill-opacity="0.6" stroke="#1a6fbd" stroke-width="0.9"/>
<circle cx="534.24" cy="112.06" r="2.2" fill="#fff" stroke="#1a6fbd" stroke-width="1.1"/>
<path d="M282.30,78.34 C287.60,81.71 290.52,83.03 295.56,86.77 C301.13,90.90 303.02,96.78 308.82,98.01 C313.63,99.03 316.56,93.56 322.08,92.39 C327.17,91.31 330.25,93.47 335.34,92.39 C340.86,91.22 344.07,85.33 348.60,86.77 C354.68,88.70 356.01,99.58 361.86,100.82 C366.62,101.83 369.42,94.80 375.12,92.39 C380.03,90.31 384.52,87.13 388.38,89.58 C395.13,93.87 395.52,107.30 401.64,109.25 C406.13,110.68 409.10,101.70 414.90,98.01 C419.71,94.95 422.70,94.13 428.16,92.39 C433.30,90.76 436.28,89.04 441.42,89.58 C446.88,90.16 449.16,94.03 454.68,95.20 C459.77,96.28 462.85,96.28 467.94,95.20 C473.46,94.03 476.39,92.64 481.20,89.58 C487.00,85.89 488.50,80.23 494.46,78.34 C499.11,76.86 503.35,78.37 507.72,81.15 C513.95,85.11 515.40,89.88 520.98,95.20 C526.00,99.99 528.94,101.94 534.24,106.44" fill="none" stroke="#3ab5b1" stroke-width="2.2"/>
<circle cx="282.30" cy="78.34" r="2.2" fill="#fff" stroke="#3ab5b1" stroke-width="1.1"/>
<circle cx="295.56" cy="86.77" r="2.1" fill="#d9dedd" fill-opacity="0.6" stroke="#3ab5b1" stroke-width="0.9"/>
<circle cx="308.82" cy="98.01" r="2.1" fill="#d9dedd" fill-opacity="0.6" stroke="#3ab5b1" stroke-width="0.9"/>
<circle cx="322.08" cy="92.39" r="2.1" fill="#d9dedd" fill-opacity="0.6" stroke="#3ab5b1" stroke-width="0.9"/>
<circle cx="335.34" cy="92.39" r="2.1" fill="#d9dedd" fill-opacity="0.6" stroke="#3ab5b1" stroke-width="0.9"/>
<circle cx="348.60" cy="86.77" r="2.1" fill="#d9dedd" fill-opacity="0.6" stroke="#3ab5b1" stroke-width="0.9"/>
<circle cx="361.86" cy="100.82" r="2.1" fill="#d9dedd" fill-opacity="0.6" stroke="#3ab5b1" stroke-width="0.9"/>
<circle cx="375.12" cy="92.39" r="2.1" fill="#d9dedd" fill-opacity="0.6" stroke="#3ab5b1" stroke-width="0.9"/>
<circle cx="388.38" cy="89.58" r="2.1" fill="#d9dedd" fill-opacity="0.6" stroke="#3ab5b1" stroke-width="0.9"/>
<circle cx="401.64" cy="109.25" r="2.1" fill="#d9dedd" fill-opacity="0.6" stroke="#3ab5b1" stroke-width="0.9"/>
<circle cx="414.90" cy="98.01" r="2.1" fill="#d9dedd" fill-opacity="0.6" stroke="#3ab5b1" stroke-width="0.9"/>
<circle cx="428.16" cy="92.39" r="2.1" fill="#d9dedd" fill-opacity="0.6" stroke="#3ab5b1" stroke-width="0.9"/>
<circle cx="441.42" cy="89.58" r="2.1" fill="#d9dedd" fill-opacity="0.6" stroke="#3ab5b1" stroke-width="0.9"/>
<circle cx="454.68" cy="95.20" r="2.1" fill="#d9dedd" fill-opacity="0.6" stroke="#3ab5b1" stroke-width="0.9"/>
<circle cx="467.94" cy="95.20" r="2.1" fill="#d9dedd" fill-opacity="0.6" stroke="#3ab5b1" stroke-width="0.9"/>
<circle cx="481.20" cy="89.58" r="2.1" fill="#d9dedd" fill-opacity="0.6" stroke="#3ab5b1" stroke-width="0.9"/>
<circle cx="494.46" cy="78.34" r="2.1" fill="#d9dedd" fill-opacity="0.6" stroke="#3ab5b1" stroke-width="0.9"/>
<circle cx="507.72" cy="81.15" r="2.1" fill="#d9dedd" fill-opacity="0.6" stroke="#3ab5b1" stroke-width="0.9"/>
<circle cx="520.98" cy="95.20" r="2.1" fill="#d9dedd" fill-opacity="0.6" stroke="#3ab5b1" stroke-width="0.9"/>
<circle cx="534.24" cy="106.44" r="2.2" fill="#fff" stroke="#3ab5b1" stroke-width="1.1"/>
<text x="290.50" y="35.10" font-family='"Liberation Serif", serif' font-size="11.8" fill="#333" text-anchor="start" font-weight="normal" textLength="201.30" lengthAdjust="spacingAndGlyphs">User AP assignment per state in Case 3</text>
<rect x="343.70" y="54.30" width="24.80" height="6.20" fill="#e2e2e2" stroke="#3ab5b1" stroke-width="2"/>
<text x="372.70" y="57.50" font-family='"Liberation Sans", sans-serif' font-size="8.2" fill="#666" text-anchor="start" font-weight="normal" dominant-baseline="central" textLength="26.90" lengthAdjust="spacingAndGlyphs">WiFi AP</text>
<rect x="407.00" y="54.30" width="24.70" height="6.20" fill="#e2e2e2" stroke="#1a6fbd" stroke-width="2"/>
<text x="435.50" y="57.50" font-family='"Liberation Sans", sans-serif' font-size="8.2" fill="#666" text-anchor="start" font-weight="normal" dominant-baseline="central" textLength="24.50" lengthAdjust="spacingAndGlyphs">LiFi AP</text>
<text transform="translate(251.20,93.60) rotate(-90)" x="0" y="0" font-family='"Liberation Serif", serif' font-size="12.2" fill="#222" text-anchor="middle" textLength="79.80" lengthAdjust="spacingAndGlyphs">Number of users</text>
<text x="371.60" y="180.80" font-family='"Liberation Serif", serif' font-size="12.0" fill="#222" text-anchor="start" font-weight="normal" textLength="58.90" lengthAdjust="spacingAndGlyphs">Time (states)</text>
<line x1="277.50" y1="417.50" x2="541.73" y2="417.50" stroke="#ebebeb" stroke-width="0.85"/>
<text x="275.10" y="417.80" font-family='"Liberation Sans", sans-serif' font-size="8.4" fill="#666" text-anchor="end" font-weight="normal" dominant-baseline="central" textLength="4.10" lengthAdjust="spacingAndGlyphs">0</text>
<line x1="277.50" y1="402.67" x2="541.73" y2="402.67" stroke="#ebebeb" stroke-width="0.85"/>
<text x="275.10" y="402.97" font-family='"Liberation Sans", sans-serif' font-size="8.4" fill="#666" text-anchor="end" font-weight="normal" dominant-baseline="central" textLength="8.20" lengthAdjust="spacingAndGlyphs">10</text>
<line x1="277.50" y1="387.83" x2="541.73" y2="387.83" stroke="#ebebeb" stroke-width="0.85"/>
<text x="275.10" y="388.13" font-family='"Liberation Sans", sans-serif' font-size="8.4" fill="#666" text-anchor="end" font-weight="normal" dominant-baseline="central" textLength="8.20" lengthAdjust="spacingAndGlyphs">20</text>
<line x1="277.50" y1="373.00" x2="541.73" y2="373.00" stroke="#ebebeb" stroke-width="0.85"/>
<text x="275.10" y="373.30" font-family='"Liberation Sans", sans-serif' font-size="8.4" fill="#666" text-anchor="end" font-weight="normal" dominant-baseline="central" textLength="8.20" lengthAdjust="spacingAndGlyphs">30</text>
<line x1="277.50" y1="358.17" x2="541.73" y2="358.17" stroke="#ebebeb" stroke-width="0.85"/>
<text x="275.10" y="358.47" font-family='"Liberation Sans", sans-serif' font-size="8.4" fill="#666" text-anchor="end" font-weight="normal" dominant-baseline="central" textLength="8.20" lengthAdjust="spacingAndGlyphs">40</text>
<line x1="277.50" y1="343.33" x2="541.73" y2="343.33" stroke="#ebebeb" stroke-width="0.85"/>
<text x="275.10" y="343.63" font-family='"Liberation Sans", sans-serif' font-size="8.4" fill="#666" text-anchor="end" font-weight="normal" dominant-baseline="central" textLength="8.20" lengthAdjust="spacingAndGlyphs">50</text>
<line x1="277.50" y1="328.50" x2="541.73" y2="328.50" stroke="#ebebeb" stroke-width="0.85"/>
<text x="275.10" y="328.80" font-family='"Liberation Sans", sans-serif' font-size="8.4" fill="#666" text-anchor="end" font-weight="normal" dominant-baseline="central" textLength="8.20" lengthAdjust="spacingAndGlyphs">60</text>
<line x1="282.00" y1="328.50" x2="282.00" y2="422.80" stroke="#ebebeb" stroke-width="0.85"/>
<text x="282.00" y="428.60" font-family='"Liberation Sans", sans-serif' font-size="8.6" fill="#666" text-anchor="middle" font-weight="normal" dominant-baseline="central" textLength="3.95" lengthAdjust="spacingAndGlyphs">1</text>
<line x1="295.67" y1="328.50" x2="295.67" y2="422.80" stroke="#ebebeb" stroke-width="0.85"/>
<text x="295.67" y="428.60" font-family='"Liberation Sans", sans-serif' font-size="8.6" fill="#666" text-anchor="middle" font-weight="normal" dominant-baseline="central" textLength="3.95" lengthAdjust="spacingAndGlyphs">2</text>
<line x1="309.34" y1="328.50" x2="309.34" y2="422.80" stroke="#ebebeb" stroke-width="0.85"/>
<text x="309.34" y="428.60" font-family='"Liberation Sans", sans-serif' font-size="8.6" fill="#666" text-anchor="middle" font-weight="normal" dominant-baseline="central" textLength="3.95" lengthAdjust="spacingAndGlyphs">3</text>
<line x1="323.01" y1="328.50" x2="323.01" y2="422.80" stroke="#ebebeb" stroke-width="0.85"/>
<text x="323.01" y="428.60" font-family='"Liberation Sans", sans-serif' font-size="8.6" fill="#666" text-anchor="middle" font-weight="normal" dominant-baseline="central" textLength="3.95" lengthAdjust="spacingAndGlyphs">4</text>
<line x1="336.68" y1="328.50" x2="336.68" y2="422.80" stroke="#ebebeb" stroke-width="0.85"/>
<text x="336.68" y="428.60" font-family='"Liberation Sans", sans-serif' font-size="8.6" fill="#666" text-anchor="middle" font-weight="normal" dominant-baseline="central" textLength="3.95" lengthAdjust="spacingAndGlyphs">5</text>
<line x1="350.35" y1="328.50" x2="350.35" y2="422.80" stroke="#ebebeb" stroke-width="0.85"/>
<text x="350.35" y="428.60" font-family='"Liberation Sans", sans-serif' font-size="8.6" fill="#666" text-anchor="middle" font-weight="normal" dominant-baseline="central" textLength="3.95" lengthAdjust="spacingAndGlyphs">6</text>
<line x1="364.02" y1="328.50" x2="364.02" y2="422.80" stroke="#ebebeb" stroke-width="0.85"/>
<text x="364.02" y="428.60" font-family='"Liberation Sans", sans-serif' font-size="8.6" fill="#666" text-anchor="middle" font-weight="normal" dominant-baseline="central" textLength="3.95" lengthAdjust="spacingAndGlyphs">7</text>
<line x1="377.69" y1="328.50" x2="377.69" y2="422.80" stroke="#ebebeb" stroke-width="0.85"/>
<text x="377.69" y="428.60" font-family='"Liberation Sans", sans-serif' font-size="8.6" fill="#666" text-anchor="middle" font-weight="normal" dominant-baseline="central" textLength="3.95" lengthAdjust="spacingAndGlyphs">8</text>
<line x1="391.36" y1="328.50" x2="391.36" y2="422.80" stroke="#ebebeb" stroke-width="0.85"/>
<text x="391.36" y="428.60" font-family='"Liberation Sans", sans-serif' font-size="8.6" fill="#666" text-anchor="middle" font-weight="normal" dominant-baseline="central" textLength="3.95" lengthAdjust="spacingAndGlyphs">9</text>
<line x1="405.03" y1="328.50" x2="405.03" y2="422.80" stroke="#ebebeb" stroke-width="0.85"/>
<text x="405.03" y="428.60" font-family='"Liberation Sans", sans-serif' font-size="8.6" fill="#666" text-anchor="middle" font-weight="normal" dominant-baseline="central" textLength="7.90" lengthAdjust="spacingAndGlyphs">10</text>
<line x1="418.70" y1="328.50" x2="418.70" y2="422.80" stroke="#ebebeb" stroke-width="0.85"/>
<text x="418.70" y="428.60" font-family='"Liberation Sans", sans-serif' font-size="8.6" fill="#666" text-anchor="middle" font-weight="normal" dominant-baseline="central" textLength="7.90" lengthAdjust="spacingAndGlyphs">11</text>
<line x1="432.37" y1="328.50" x2="432.37" y2="422.80" stroke="#ebebeb" stroke-width="0.85"/>
<text x="432.37" y="428.60" font-family='"Liberation Sans", sans-serif' font-size="8.6" fill="#666" text-anchor="middle" font-weight="normal" dominant-baseline="central" textLength="7.90" lengthAdjust="spacingAndGlyphs">12</text>
<line x1="446.04" y1="328.50" x2="446.04" y2="422.80" stroke="#ebebeb" stroke-width="0.85"/>
<text x="446.04" y="428.60" font-family='"Liberation Sans", sans-serif' font-size="8.6" fill="#666" text-anchor="middle" font-weight="normal" dominant-baseline="central" textLength="7.90" lengthAdjust="spacingAndGlyphs">13</text>
<line x1="459.71" y1="328.50" x2="459.71" y2="422.80" stroke="#ebebeb" stroke-width="0.85"/>
<text x="459.71" y="428.60" font-family='"Liberation Sans", sans-serif' font-size="8.6" fill="#666" text-anchor="middle" font-weight="normal" dominant-baseline="central" textLength="7.90" lengthAdjust="spacingAndGlyphs">14</text>
<line x1="473.38" y1="328.50" x2="473.38" y2="422.80" stroke="#ebebeb" stroke-width="0.85"/>
<text x="473.38" y="428.60" font-family='"Liberation Sans", sans-serif' font-size="8.6" fill="#666" text-anchor="middle" font-weight="normal" dominant-baseline="central" textLength="7.90" lengthAdjust="spacingAndGlyphs">15</text>
<line x1="487.05" y1="328.50" x2="487.05" y2="422.80" stroke="#ebebeb" stroke-width="0.85"/>
<text x="487.05" y="428.60" font-family='"Liberation Sans", sans-serif' font-size="8.6" fill="#666" text-anchor="middle" font-weight="normal" dominant-baseline="central" textLength="7.90" lengthAdjust="spacingAndGlyphs">16</text>
<line x1="500.72" y1="328.50" x2="500.72" y2="422.80" stroke="#ebebeb" stroke-width="0.85"/>
<text x="500.72" y="428.60" font-family='"Liberation Sans", sans-serif' font-size="8.6" fill="#666" text-anchor="middle" font-weight="normal" dominant-baseline="central" textLength="7.90" lengthAdjust="spacingAndGlyphs">17</text>
<line x1="514.39" y1="328.50" x2="514.39" y2="422.80" stroke="#ebebeb" stroke-width="0.85"/>
<text x="514.39" y="428.60" font-family='"Liberation Sans", sans-serif' font-size="8.6" fill="#666" text-anchor="middle" font-weight="normal" dominant-baseline="central" textLength="7.90" lengthAdjust="spacingAndGlyphs">18</text>
<line x1="528.06" y1="328.50" x2="528.06" y2="422.80" stroke="#ebebeb" stroke-width="0.85"/>
<text x="528.06" y="428.60" font-family='"Liberation Sans", sans-serif' font-size="8.6" fill="#666" text-anchor="middle" font-weight="normal" dominant-baseline="central" textLength="7.90" lengthAdjust="spacingAndGlyphs">19</text>
<line x1="541.73" y1="328.50" x2="541.73" y2="422.80" stroke="#ebebeb" stroke-width="0.85"/>
<text x="541.73" y="428.60" font-family='"Liberation Sans", sans-serif' font-size="8.6" fill="#666" text-anchor="middle" font-weight="normal" dominant-baseline="central" textLength="7.90" lengthAdjust="spacingAndGlyphs">20</text>
<path d="M282.00,413.05 C287.47,408.90 290.64,407.30 295.67,402.67 C301.58,397.22 302.84,391.01 309.34,387.83 C313.77,385.67 317.66,388.16 323.01,389.32 C328.60,390.53 331.43,391.49 336.68,393.77 C342.36,396.23 344.53,399.60 350.35,401.18 C355.47,402.57 359.17,403.02 364.02,401.18 C370.11,398.87 371.84,391.75 377.69,390.80 C382.77,389.97 385.67,395.81 391.36,396.73 C396.61,397.59 399.61,394.96 405.03,395.25 C410.54,395.55 413.40,396.49 418.70,398.22 C424.34,400.05 426.73,402.31 432.37,404.15 C437.67,405.87 441.13,408.45 446.04,407.12 C452.07,405.48 453.68,398.37 459.71,396.73 C464.62,395.40 467.85,399.10 473.38,399.70 C478.79,400.29 481.64,399.11 487.05,399.70 C492.58,400.30 495.21,402.37 500.72,402.67 C506.14,402.96 509.26,402.85 514.39,401.18 C520.19,399.29 522.24,395.35 528.06,393.77 C533.18,392.38 536.26,393.77 541.73,393.77" fill="none" stroke="#1a6fbd" stroke-width="2.2"/>
<circle cx="282.00" cy="413.05" r="2.2" fill="#fff" stroke="#1a6fbd" stroke-width="1.1"/>
<circle cx="295.67" cy="402.67" r="2.1" fill="#d9dedd" fill-opacity="0.6" stroke="#1a6fbd" stroke-width="0.9"/>
<circle cx="309.34" cy="387.83" r="2.1" fill="#d9dedd" fill-opacity="0.6" stroke="#1a6fbd" stroke-width="0.9"/>
<circle cx="323.01" cy="389.32" r="2.1" fill="#d9dedd" fill-opacity="0.6" stroke="#1a6fbd" stroke-width="0.9"/>
<circle cx="336.68" cy="393.77" r="2.1" fill="#d9dedd" fill-opacity="0.6" stroke="#1a6fbd" stroke-width="0.9"/>
<circle cx="350.35" cy="401.18" r="2.1" fill="#d9dedd" fill-opacity="0.6" stroke="#1a6fbd" stroke-width="0.9"/>
<circle cx="364.02" cy="401.18" r="2.1" fill="#d9dedd" fill-opacity="0.6" stroke="#1a6fbd" stroke-width="0.9"/>
<circle cx="377.69" cy="390.80" r="2.1" fill="#d9dedd" fill-opacity="0.6" stroke="#1a6fbd" stroke-width="0.9"/>
<circle cx="391.36" cy="396.73" r="2.1" fill="#d9dedd" fill-opacity="0.6" stroke="#1a6fbd" stroke-width="0.9"/>
<circle cx="405.03" cy="395.25" r="2.1" fill="#d9dedd" fill-opacity="0.6" stroke="#1a6fbd" stroke-width="0.9"/>
<circle cx="418.70" cy="398.22" r="2.1" fill="#d9dedd" fill-opacity="0.6" stroke="#1a6fbd" stroke-width="0.9"/>
<circle cx="432.37" cy="404.15" r="2.1" fill="#d9dedd" fill-opacity="0.6" stroke="#1a6fbd" stroke-width="0.9"/>
<circle cx="446.04" cy="407.12" r="2.1" fill="#d9dedd" fill-opacity="0.6" stroke="#1a6fbd" stroke-width="0.9"/>
<circle cx="459.71" cy="396.73" r="2.1" fill="#d9dedd" fill-opacity="0.6" stroke="#1a6fbd" stroke-width="0.9"/>
<circle cx="473.38" cy="399.70" r="2.1" fill="#d9dedd" fill-opacity="0.6" stroke="#1a6fbd" stroke-width="0.9"/>
<circle cx="487.05" cy="399.70" r="2.1" fill="#d9dedd" fill-opacity="0.6" stroke="#1a6fbd" stroke-width="0.9"/>
<circle cx="500.72" cy="402.67" r="2.1" fill="#d9dedd" fill-opacity="0.6" stroke="#1a6fbd" stroke-width="0.9"/>
<circle cx="514.39" cy="401.18" r="2.1" fill="#d9dedd" fill-opacity="0.6" stroke="#1a6fbd" stroke-width="0.9"/>
<circle cx="528.06" cy="393.77" r="2.1" fill="#d9dedd" fill-opacity="0.6" stroke="#1a6fbd" stroke-width="0.9"/>
<circle cx="541.73" cy="393.77" r="2.2" fill="#fff" stroke="#1a6fbd" stroke-width="1.1"/>
<path d="M282.00,332.95 C287.47,337.10 290.64,338.70 295.67,343.33 C301.58,348.78 302.84,354.99 309.34,358.17 C313.77,360.33 317.66,357.84 323.01,356.68 C328.60,355.47 331.43,354.51 336.68,352.23 C342.36,349.77 344.53,346.40 350.35,344.82 C355.47,343.43 359.17,342.98 364.02,344.82 C370.11,347.13 371.84,354.25 377.69,355.20 C382.77,356.03 385.67,350.19 391.36,349.27 C396.61,348.41 399.61,351.04 405.03,350.75 C410.54,350.45 413.40,349.51 418.70,347.78 C424.34,345.95 426.73,343.69 432.37,341.85 C437.67,340.13 441.13,337.55 446.04,338.88 C452.07,340.52 453.68,347.63 459.71,349.27 C464.62,350.60 467.85,346.90 473.38,346.30 C478.79,345.71 481.64,346.89 487.05,346.30 C492.58,345.70 495.21,343.63 500.72,343.33 C506.14,343.04 509.26,343.15 514.39,344.82 C520.19,346.71 522.24,350.65 528.06,352.23 C533.18,353.62 536.26,352.23 541.73,352.23" fill="none" stroke="#3ab5b1" stroke-width="2.2"/>
<circle cx="282.00" cy="332.95" r="2.2" fill="#fff" stroke="#3ab5b1" stroke-width="1.1"/>
<circle cx="295.67" cy="343.33" r="2.1" fill="#d9dedd" fill-opacity="0.6" stroke="#3ab5b1" stroke-width="0.9"/>
<circle cx="309.34" cy="358.17" r="2.1" fill="#d9dedd" fill-opacity="0.6" stroke="#3ab5b1" stroke-width="0.9"/>
<circle cx="323.01" cy="356.68" r="2.1" fill="#d9dedd" fill-opacity="0.6" stroke="#3ab5b1" stroke-width="0.9"/>
<circle cx="336.68" cy="352.23" r="2.1" fill="#d9dedd" fill-opacity="0.6" stroke="#3ab5b1" stroke-width="0.9"/>
<circle cx="350.35" cy="344.82" r="2.1" fill="#d9dedd" fill-opacity="0.6" stroke="#3ab5b1" stroke-width="0.9"/>
<circle cx="364.02" cy="344.82" r="2.1" fill="#d9dedd" fill-opacity="0.6" stroke="#3ab5b1" stroke-width="0.9"/>
<circle cx="377.69" cy="355.20" r="2.1" fill="#d9dedd" fill-opacity="0.6" stroke="#3ab5b1" stroke-width="0.9"/>
<circle cx="391.36" cy="349.27" r="2.1" fill="#d9dedd" fill-opacity="0.6" stroke="#3ab5b1" stroke-width="0.9"/>
<circle cx="405.03" cy="350.75" r="2.1" fill="#d9dedd" fill-opacity="0.6" stroke="#3ab5b1" stroke-width="0.9"/>
<circle cx="418.70" cy="347.78" r="2.1" fill="#d9dedd" fill-opacity="0.6" stroke="#3ab5b1" stroke-width="0.9"/>
<circle cx="432.37" cy="341.85" r="2.1" fill="#d9dedd" fill-opacity="0.6" stroke="#3ab5b1" stroke-width="0.9"/>
<circle cx="446.04" cy="338.88" r="2.1" fill="#d9dedd" fill-opacity="0.6" stroke="#3ab5b1" stroke-width="0.9"/>
<circle cx="459.71" cy="349.27" r="2.1" fill="#d9dedd" fill-opacity="0.6" stroke="#3ab5b1" stroke-width="0.9"/>
<circle cx="473.38" cy="346.30" r="2.1" fill="#d9dedd" fill-opacity="0.6" stroke="#3ab5b1" stroke-width="0.9"/>
<circle cx="487.05" cy="346.30" r="2.1" fill="#d9dedd" fill-opacity="0.6" stroke="#3ab5b1" stroke-width="0.9"/>
<circle cx="500.72" cy="343.33" r="2.1" fill="#d9dedd" fill-opacity="0.6" stroke="#3ab5b1" stroke-width="0.9"/>
<circle cx="514.39" cy="344.82" r="2.1" fill="#d9dedd" fill-opacity="0.6" stroke="#3ab5b1" stroke-width="0.9"/>
<circle cx="528.06" cy="352.23" r="2.1" fill="#d9dedd" fill-opacity="0.6" stroke="#3ab5b1" stroke-width="0.9"/>
<circle cx="541.73" cy="352.23" r="2.2" fill="#fff" stroke="#3ab5b1" stroke-width="1.1"/>
<text x="290.00" y="299.50" font-family='"Liberation Serif", serif' font-size="11.8" fill="#333" text-anchor="start" font-weight="normal" textLength="200.40" lengthAdjust="spacingAndGlyphs">User AP assignment per state in Case 4</text>
<rect x="347.40" y="315.10" width="24.70" height="6.50" fill="#e2e2e2" stroke="#3ab5b1" stroke-width="2"/>
<text x="376.00" y="318.00" font-family='"Liberation Sans", sans-serif' font-size="8.2" fill="#666" text-anchor="start" font-weight="normal" dominant-baseline="central" textLength="27.30" lengthAdjust="spacingAndGlyphs">WiFi AP</text>
<rect x="410.10" y="315.10" width="24.70" height="6.50" fill="#e2e2e2" stroke="#1a6fbd" stroke-width="2"/>
<text x="439.10" y="318.00" font-family='"Liberation Sans", sans-serif' font-size="8.2" fill="#666" text-anchor="start" font-weight="normal" dominant-baseline="central" textLength="24.00" lengthAdjust="spacingAndGlyphs">LiFi AP</text>
<text transform="translate(251.70,358.30) rotate(-90)" x="0" y="0" font-family='"Liberation Serif", serif' font-size="12.2" fill="#222" text-anchor="middle" textLength="79.80" lengthAdjust="spacingAndGlyphs">Number of users</text>
<text x="376.90" y="445.50" font-family='"Liberation Serif", serif' font-size="12.0" fill="#222" text-anchor="start" font-weight="normal" textLength="58.90" lengthAdjust="spacingAndGlyphs">Time (states)</text>
<text x="4.80" y="225.70" font-family='"Liberation Serif", serif' font-size="11.2" fill="#111" text-anchor="start" font-weight="normal" textLength="211.50" lengthAdjust="spacingAndGlyphs">(1) average data rates through all states for Case 3.</text>
<text x="4.40" y="483.60" font-family='"Liberation Serif", serif' font-size="11.2" fill="#111" text-anchor="start" font-weight="normal" textLength="211.60" lengthAdjust="spacingAndGlyphs">(1) average data rates through all states for Case 4.</text>
<text x="278.70" y="226.00" font-family='"Liberation Serif", serif' font-size="10.9" fill="#111" text-anchor="start" font-weight="normal" textLength="216.80" lengthAdjust="spacingAndGlyphs">(2) number of users per APs in each state for Case 3.</text>
<text x="280.40" y="483.80" font-family='"Liberation Serif", serif' font-size="10.9" fill="#111" text-anchor="start" font-weight="normal" textLength="213.80" lengthAdjust="spacingAndGlyphs">(2) number of users per AP in each state for Case 4.</text>
<text x="265.30" y="239.70" font-family='"Liberation Serif", serif' font-size="10.5" fill="#111" text-anchor="start" font-weight="bold" textLength="10.90" lengthAdjust="spacingAndGlyphs">(c)</text>
<text x="263.60" y="497.60" font-family='"Liberation Serif", serif' font-size="10.5" fill="#111" text-anchor="start" font-weight="bold" textLength="13.60" lengthAdjust="spacingAndGlyphs">(d)</text>
</svg>
</body></html>
